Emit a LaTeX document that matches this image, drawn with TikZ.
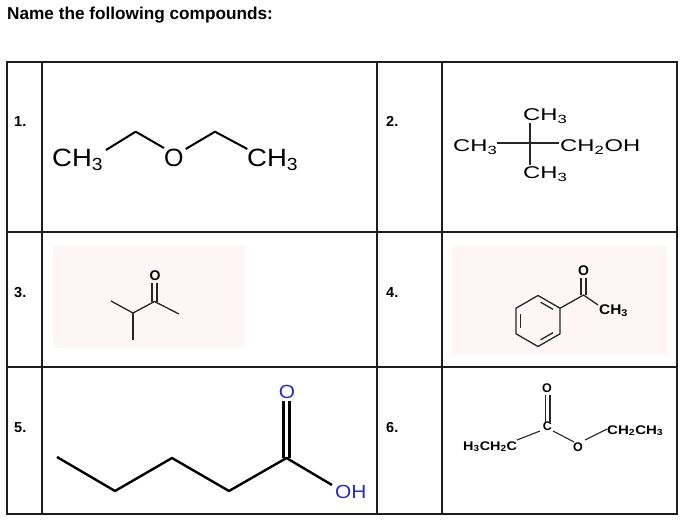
\documentclass[tikz,border=0pt]{standalone}
\usepackage{fontspec}
\setmainfont{Liberation Sans}
\usetikzlibrary{positioning, calc}
\definecolor{PaperPink}{HTML}{FDF5F6}
\definecolor{AcidBlue}{HTML}{2A2ACB}
\definecolor{GridGray}{HTML}{1E1E1E}
\newcommand{\hstretch}[2]{\scalebox{#1}[1]{#2}}
\tikzset{
  gridline/.style={line width=1.6pt, GridGray},
  numlabel/.style={anchor=base west, inner sep=0pt, font=\bfseries\fontsize{14.5}{16}\selectfont},
  titletext/.style={anchor=base west, inner sep=0pt, font=\bfseries\fontsize{17.2}{20}\selectfont},
  atombig/.style={anchor=base west, inner sep=0pt, font=\fontsize{25}{28}\selectfont},
  atommid/.style={anchor=base west, inner sep=0pt, font=\fontsize{17}{20}\selectfont},
  atomsmall/.style={inner sep=0pt, font=\bfseries\fontsize{12.5}{14}\selectfont},
  atomring/.style={inner sep=0pt, font=\bfseries\fontsize{14}{16}\selectfont},
  atomblue/.style={inner sep=0pt, text=AcidBlue, font=\fontsize{19}{22}\selectfont},
  bondthick/.style={line width=2pt, line join=round},
  bondthin/.style={line width=1.3pt, black!85, line join=round},
  chainbond/.style={line width=2.4pt, line join=round},
  pinkbox/.style={fill=PaperPink, draw=none}
}
\begin{document}
\begin{tikzpicture}[x=1pt, y=-1pt]
  \useasboundingbox (0,0) rectangle (684,521);
  \fill[white] (0,0) rectangle (684,521);

  % Title
  \node[titletext] (title) at (7,20) {Name the following compounds:};

  % Table
  \draw[gridline] (7,62) rectangle (677,514);
  \foreach \y in {232, 367} {
    \draw[gridline] (7,\y) -- (677,\y);
  }
  \foreach \x in {42, 377, 442} {
    \draw[gridline] (\x,62) -- (\x,514);
  }
  \foreach \n/\x/\y in {1/14/127, 2/386/127, 3/14/297, 4/386/297, 5/14/432, 6/386/432} {
    \node[numlabel] (num\n) at (\x,\y) {\n.};
  }

  % 1. diethyl ether
  \node[atombig] (ethA) at (52,167) {\hstretch{1.1}{CH\textsubscript{3}}};
  \node[atombig] (ethO) at (164,167) {O};
  \node[atombig] (ethB) at (247,167) {\hstretch{1.1}{CH\textsubscript{3}}};
  \coordinate (e0) at (106,150);
  \coordinate (e1) at (135.7,131.7);
  \coordinate (e2) at (164,148);
  \coordinate (e3) at (185.7,149);
  \coordinate (e4) at (215,131.7);
  \coordinate (e5) at (247.3,149);
  \draw[bondthick] (e0) -- (e1) -- (e2);
  \draw[bondthick] (e3) -- (e4) -- (e5);

  % 2. neopentyl alcohol
  \node[atommid] (neoTop) at (523,121) {\hstretch{1.4}{CH\textsubscript{3}}};
  \node[atommid] (neoLeft) at (453,152) {\hstretch{1.4}{CH\textsubscript{3}}};
  \node[atommid] (neoRight) at (560,152) {\hstretch{1.4}{CH\textsubscript{2}OH}};
  \node[atommid] (neoBot) at (523,179) {\hstretch{1.4}{CH\textsubscript{3}}};
  \coordinate (n1) at (530,123);
  \coordinate (n2) at (530,165);
  \coordinate (n3) at (497,143);
  \coordinate (n4) at (559,143);
  \draw[bondthin] (n1) -- (n2);
  \draw[bondthin] (n3) -- (n4);

  % 3. methyl isopropyl ketone
  \fill[pinkbox] (53,245) rectangle (245,348);
  \node[atomring] (ketO) at (155,275.5) {O};
  \coordinate (k1) at (111,301);
  \coordinate (k2) at (133,313);
  \coordinate (k3) at (154.5,301.5);
  \coordinate (k4) at (179,314);
  \coordinate (k5) at (133,340);
  \coordinate (k6) at (154.5,283);
  \draw[bondthin] (k1) -- (k2) -- (k3) -- (k4);
  \draw[bondthin] (k2) -- (k5);
  \draw[bondthin] ([xshift=-2.5pt]k3) -- ([xshift=-2.5pt]k6);
  \draw[bondthin] ([xshift=2.5pt]k3) -- ([xshift=2.5pt]k6);

  % 4. acetophenone
  \fill[pinkbox] (452,245) rectangle (667,355);
  \coordinate (ring) at (538,321);
  \foreach \v/\a in {T/90, UR/30, LR/-30, B/-90, LL/-150, UL/150} {
    \coordinate (r\v) at ({538+25.5*cos(\a)}, {321-25.5*sin(\a)});
    \coordinate (q\v) at ({538+20.3*cos(\a)}, {321-20.3*sin(\a)});
  }
  \draw[bondthin] (rT) -- (rUR) -- (rLR) -- (rB) -- (rLL) -- (rUL) -- cycle;
  \draw[bondthin, shorten <=3pt, shorten >=3pt] (qUL) -- (qLL);
  \draw[bondthin, shorten <=3pt, shorten >=3pt] (qT) -- (qUR);
  \draw[bondthin, shorten <=3pt, shorten >=3pt] (qLR) -- (qB);
  \node[atomring] (acO) at (583.5,270.5) {O};
  \node[atomring, anchor=base west] (acMe) at (599,314) {\hstretch{1.1}{CH\textsubscript{3}}};
  \coordinate (a1) at (583.5,295);
  \coordinate (a2) at (583.5,277.5);
  \coordinate (a3) at (598,305);
  \draw[bondthin] (rUR) -- (a1) -- (a3);
  \draw[bondthin] ([xshift=-2.5pt]a1) -- ([xshift=-2.5pt]a2);
  \draw[bondthin] ([xshift=2.5pt]a1) -- ([xshift=2.5pt]a2);

  % 5. pentanoic acid
  \node[atomblue] (acidO) at (287,392) {\hstretch{1.1}{O}};
  \node[atomblue, anchor=base west] (acidOH) at (335,498) {\hstretch{1.1}{OH}};
  \coordinate (p1) at (57,457);
  \coordinate (p2) at (115,491);
  \coordinate (p3) at (172,458);
  \coordinate (p4) at (229,491);
  \coordinate (p5) at (286.5,458);
  \coordinate (p6) at (332,485);
  \coordinate (p7) at (286.5,401);
  \draw[chainbond] (p1) -- (p2) -- (p3) -- (p4) -- (p5) -- (p6);
  \draw[chainbond] ([xshift=-3pt]p5) -- ([xshift=-3pt]p7);
  \draw[chainbond] ([xshift=3pt]p5) -- ([xshift=3pt]p7);

  % 6. ethyl propanoate
  \node[atomsmall] (esO) at (547,388.5) {O};
  \node[atomsmall] (esC) at (547.5,426.5) {C};
  \node[atomsmall] (esO2) at (578,447) {O};
  \node[atomsmall, anchor=base west] (esL) at (463,450) {\hstretch{1.15}{H\textsubscript{3}CH\textsubscript{2}C}};
  \node[atomsmall, anchor=base west] (esR) at (607,434) {\hstretch{1.2}{CH\textsubscript{2}CH\textsubscript{3}}};
  \coordinate (s1) at (517,440);
  \coordinate (s2) at (540,431);
  \coordinate (s3) at (553,431);
  \coordinate (s4) at (574,442);
  \coordinate (s5) at (585,440);
  \coordinate (s6) at (607,429);
  \coordinate (s7) at (547.75,421.5);
  \coordinate (s8) at (547.75,395);
  \draw[bondthin, line width=1.1pt] (s1) -- (s2);
  \draw[bondthin, line width=1.1pt] (s3) -- (s4);
  \draw[bondthin, line width=1.1pt] (s5) -- (s6);
  \draw[bondthin, line width=1.1pt] ([xshift=-2.25pt]s7) -- ([xshift=-2.25pt]s8);
  \draw[bondthin, line width=1.1pt] ([xshift=2.25pt]s7) -- ([xshift=2.25pt]s8);
\end{tikzpicture}
\end{document}
